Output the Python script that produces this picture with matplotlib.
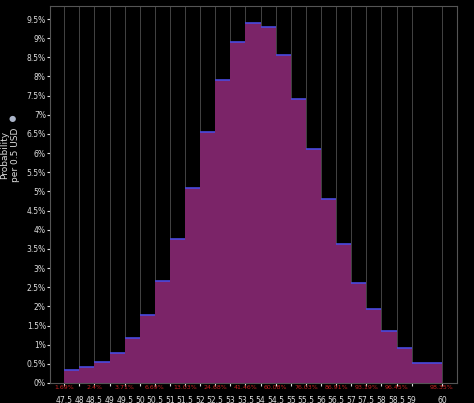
import numpy as np
import matplotlib
matplotlib.use('Agg')
import matplotlib.pyplot as plt

# bin edges and probabilities (%)
bin_edges = [47.5, 48, 48.5, 49, 49.5, 50, 50.5, 51, 51.5, 52, 52.5, 53, 53.5, 54,
             54.5, 55, 55.5, 56, 56.5, 57, 57.5, 58, 58.5, 59, 60]
probs = [0.33, 0.42, 0.55, 0.78, 1.18, 1.78, 2.65, 3.75, 5.1, 6.55, 7.9, 8.9, 9.4, 9.28,
         8.55, 7.42, 6.1, 4.8, 3.62, 2.62, 1.92, 1.37, 0.92, 0.52]
tick_pos = [47.5, 48, 48.5, 49, 49.5, 50, 50.5, 51, 51.5, 52, 52.5, 53, 53.5, 54,
            54.5, 55, 55.5, 56, 56.5, 57, 57.5, 58, 58.5, 59, 60]
tick_labels = ['47.5', '48', '48.5', '49', '49.5', '50', '50.5', '51', '51.5', '52', '52.5',
               '53', '53.5', '54', '54.5', '55', '55.5', '56', '56.5', '57', '57.5', '58',
               '58.5', '59', '60']
cum_pos = [47.5, 48.5, 49.5, 50.5, 51.5, 52.5, 53.5, 54.5, 55.5, 56.5, 57.5, 58.5, 60]
cum_labels = ['1.69%', '2.4%', '3.71%', '6.69%', '13.03%', '24.68%', '41.46%', '60.08%',
              '76.03%', '86.91%', '93.19%', '96.45%', '98.35%']

fig = plt.figure(figsize=(4.74, 4.03), dpi=100, facecolor='black')
ax = fig.add_axes([50/474, 20/403, 407/474, 377/403])
ax.set_facecolor('black')

lefts = np.array(bin_edges[:-1])
rights = np.array(bin_edges[1:])
ax.bar(lefts, probs, width=rights - lefts, align='edge', color='#7b2468', edgecolor='none', zorder=2)
ax.hlines(probs, lefts, rights, color='#4a4ae0', lw=1.2, zorder=3)

ax.set_xlim(47.03, 60.5)
ax.set_ylim(0, 9.84)
ax.set_yticks(np.arange(0, 9.6, 0.5))
ax.set_yticklabels([f'{v:g}%' for v in np.arange(0, 9.6, 0.5)])
ax.set_xticks(tick_pos)
ax.set_xticklabels(tick_labels)
ax.tick_params(colors='#dddddd', labelsize=5.5, length=2)
ax.tick_params(axis='x', pad=7.5)
ax.tick_params(axis='y', pad=1)
ax.grid(True, axis='x', color='#444444', lw=0.7, zorder=0)
ax.set_axisbelow(True)
for s in ax.spines.values():
    s.set_color('#555555')

for p, lab in zip(cum_pos, cum_labels):
    ax.text(p, -0.004, lab, transform=ax.get_xaxis_transform(), color='#cc2222',
            fontsize=4.5, ha='center', va='top')

fig.text(0.022, 1 - 155/403, 'Probability\nper 0.5 USD', rotation=90, color='#dddddd',
         fontsize=6.5, ha='center', va='center', linespacing=1.3)
fig.text(12/474, 1 - 119/403, '●', color='#aab4c8', fontsize=6, ha='center', va='center')

fig.savefig('out.png', dpi=100, facecolor='black')
